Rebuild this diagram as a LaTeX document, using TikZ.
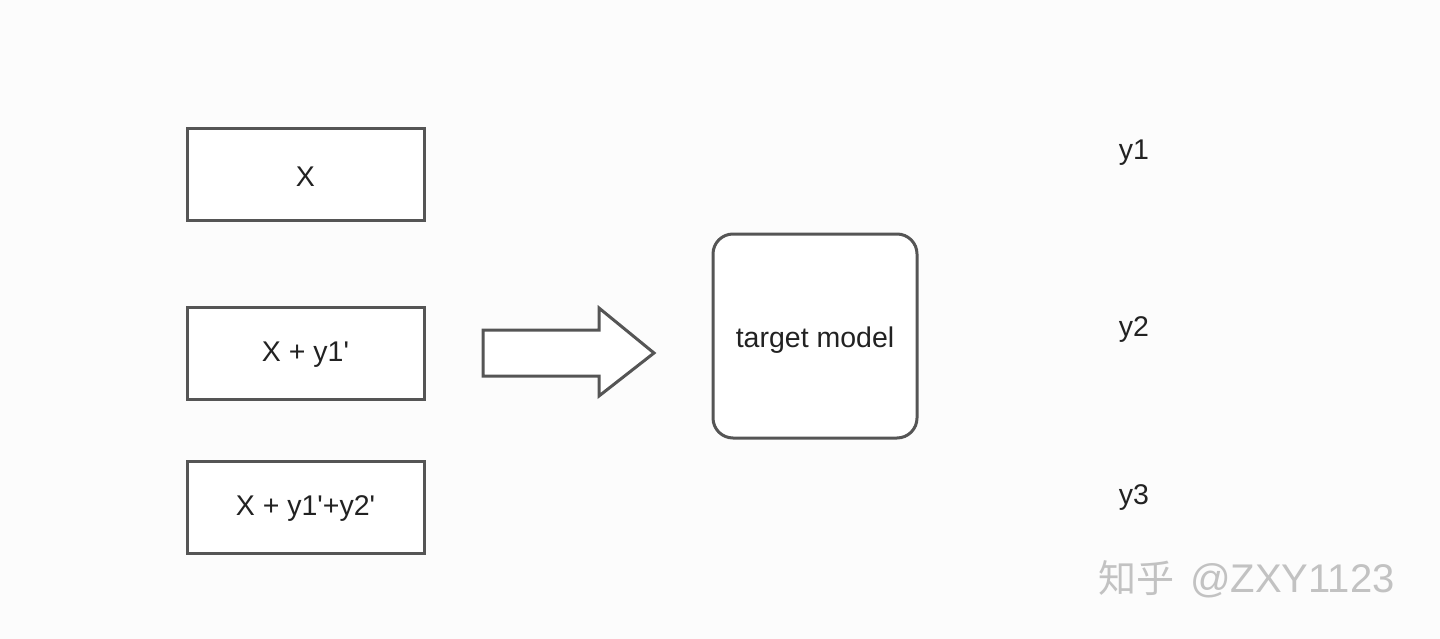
\documentclass[tikz,border=0pt]{standalone}
\usepackage{fontspec}
\newfontfamily\labfont{Liberation Sans}
\newfontfamily\cjkwm{Noto Sans CJK SC}
\begin{document}
\begin{tikzpicture}[x=1pt,y=-1pt,
  box/.style={draw=linegray, line width=3pt, fill=white},
  lbl/.style={font=\labfont\fontsize{28.5}{32}\selectfont, text=textdark, inner sep=0pt},
]
\definecolor{linegray}{HTML}{555555}
\definecolor{textdark}{HTML}{222222}
\definecolor{bg}{HTML}{FCFCFC}
\definecolor{wm}{HTML}{C2C2C2}
\fill[bg] (0,0) rectangle (1440,639);
\useasboundingbox (0,0) rectangle (1440,639);

\draw[box] (187,129) rectangle (424,221);
\node[lbl] (b1) at (305.5,177) {X};
\draw[box] (187,307) rectangle (424,399);
\node[lbl] (b2) at (305.5,355) {X + y1'};
\draw[box] (187,461) rectangle (424,553);
\node[lbl] (b3) at (305.5,509) {X + y1'+y2'};

\draw[draw=linegray, line width=3pt, fill=white, line join=miter]
  (483,330) -- (599,330) -- (599,308) -- (654,353) -- (599,396) -- (599,376) -- (483,376) -- cycle;

\draw[box, rounded corners=20pt] (713,234) rectangle (917,438);
\node[lbl] (tm) at (815,340) {target model};

\node[lbl] (y1) at (1134,153) {y1};
\node[lbl] (y2) at (1134,330) {y2};
\node[lbl] (y3) at (1134,498) {y3};

\node[text=wm, inner sep=0pt, anchor=west] (wmk) at (1098,579)
  {{\cjkwm\fontsize{38}{42}\selectfont 知乎}\hspace{16pt}{\labfont\fontsize{40}{44}\selectfont @ZXY1123}};
\end{tikzpicture}
\end{document}
